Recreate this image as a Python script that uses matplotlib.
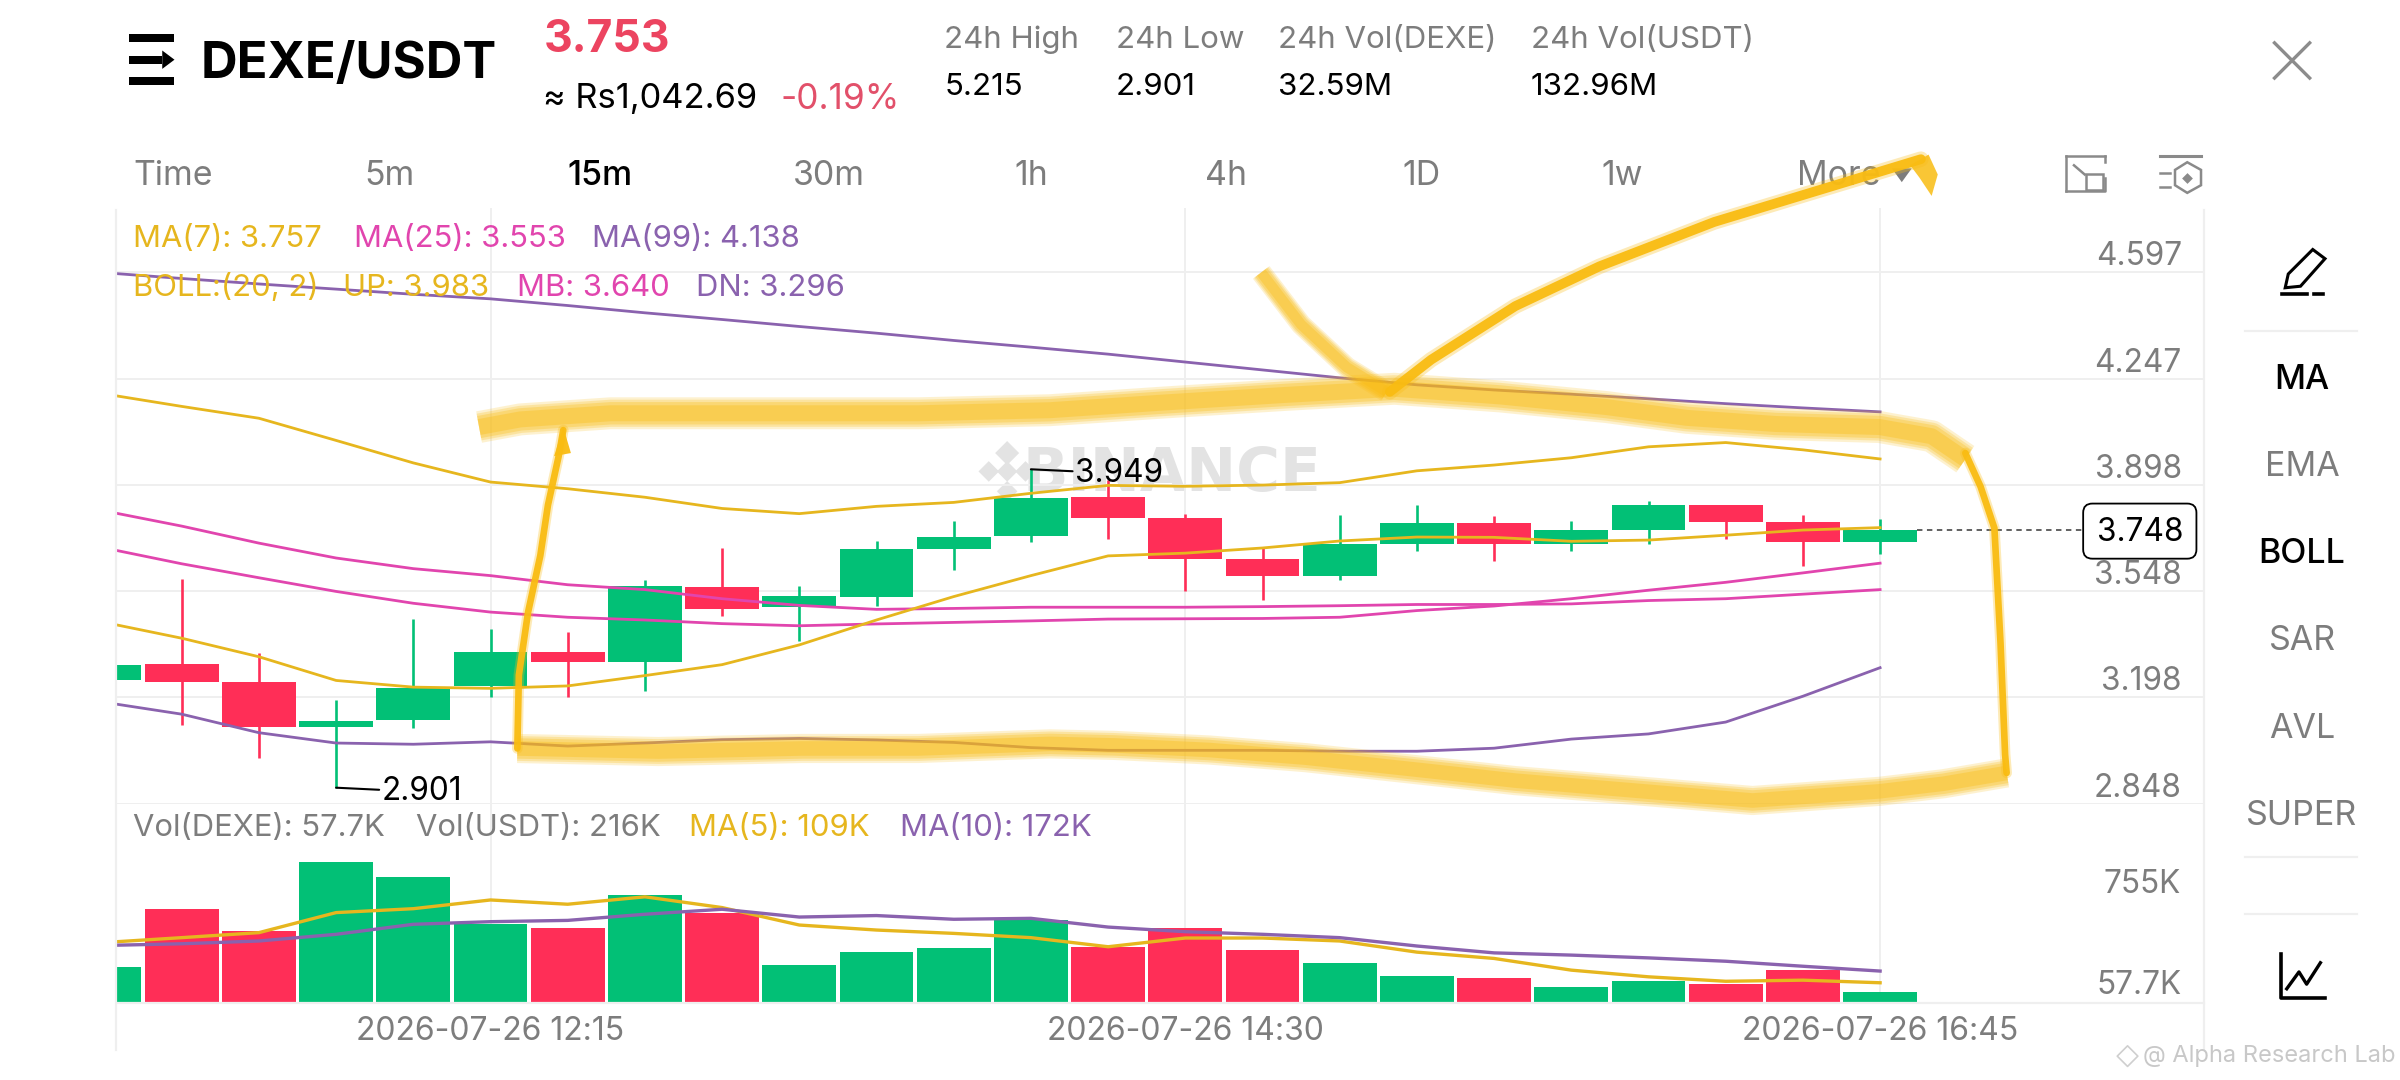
import matplotlib
matplotlib.use("Agg")
import matplotlib.pyplot as plt
from matplotlib.patches import Rectangle, FancyBboxPatch, Polygon

# ---------- data ----------
opens  = [3.257,3.307,3.248,3.100,3.124,3.236,3.348,3.315,3.561,3.495,3.530,3.686,3.729,3.858,3.789,3.655,3.598,3.702,3.773,3.702,3.749,3.831,3.776,3.711]
closes = [3.305,3.248,3.100,3.120,3.228,3.348,3.314,3.566,3.490,3.531,3.686,3.726,3.853,3.789,3.655,3.599,3.702,3.773,3.702,3.749,3.833,3.777,3.711,3.748]
highs  = [3.305,3.589,3.344,3.189,3.456,3.422,3.414,3.586,3.689,3.564,3.713,3.778,3.949,3.914,3.801,3.690,3.798,3.832,3.794,3.780,3.846,3.833,3.798,3.784]
lows   = [3.257,3.108,3.000,2.901,3.098,3.198,3.198,3.218,3.465,3.383,3.499,3.618,3.710,3.720,3.549,3.520,3.586,3.680,3.648,3.680,3.703,3.720,3.630,3.670]
ma7    = [3.445,3.393,3.332,3.254,3.232,3.228,3.236,3.270,3.306,3.371,3.453,3.530,3.599,3.664,3.673,3.690,3.713,3.726,3.725,3.712,3.716,3.732,3.749,3.757]
ma25   = [3.812,3.762,3.706,3.657,3.622,3.599,3.569,3.553,3.523,3.501,3.488,3.491,3.495,3.495,3.495,3.497,3.500,3.504,3.504,3.506,3.517,3.523,3.538,3.553]
ma99   = [4.596,4.577,4.559,4.542,4.525,4.510,4.488,4.464,4.442,4.419,4.397,4.373,4.351,4.328,4.302,4.276,4.250,4.227,4.210,4.196,4.181,4.165,4.151,4.138]
boll_up= [4.197,4.156,4.117,4.044,3.970,3.907,3.885,3.857,3.820,3.803,3.827,3.840,3.870,3.896,3.893,3.897,3.905,3.944,3.963,3.987,4.023,4.037,4.013,3.983]
boll_mb= [3.690,3.638,3.592,3.547,3.508,3.479,3.462,3.453,3.441,3.434,3.440,3.445,3.450,3.456,3.457,3.458,3.462,3.484,3.499,3.523,3.551,3.577,3.608,3.640]
boll_dn= [3.182,3.143,3.082,3.048,3.044,3.052,3.038,3.048,3.059,3.063,3.058,3.050,3.033,3.024,3.024,3.024,3.021,3.021,3.031,3.061,3.078,3.117,3.202,3.296]
volume = [193,507,388,761,680,424,402,582,487,204,274,296,445,303,404,287,215,148,133,85,121,101,180,57.7]
vol_ma5= [326,352,379,487,508,555,532,572,514,420,393,375,352,303,350,350,334,274,240,177,141,117,123,109]
vol_ma10=[310,319,334,370,424,438,445,478,505,463,471,451,456,409,384,370,352,307,270,258,243,225,198,172]
price_ticks = [4.597,4.247,3.898,3.548,3.198,2.848]
price_tick_labels = ["4.597","4.247","3.898","3.548","3.198","2.848"]
date_idx = [5,14,23]
date_labels = ["2026-07-26 12:15","2026-07-26 14:30","2026-07-26 16:45"]

# ---------- style ----------
GREEN="#02C076"; RED="#FF2E57"; YEL="#E6B61E"; MAG="#E145AE"; PUR="#8A62AE"
GRAY="#7D7D7D"; GRID="#EFEFEF"; HL="#F9BC12"
plt.rcParams['font.family']=['Inter','DejaVu Sans']
W,H=2400,1080
fig=plt.figure(figsize=(24,10.8),dpi=100,facecolor='white')
def axpx(l,t,r,b,z):
    a=fig.add_axes([l/W,1-b/H,(r-l)/W,(b-t)/H],zorder=z); a.patch.set_alpha(0); return a

# overlay coordinates follow a 1568-wide view of the screen
S=W/1568
bg=axpx(0,0,W,H,0); bg.set_xlim(0,1568); bg.set_ylim(H/S,0); bg.axis('off')
top=axpx(0,0,W,H,5); top.set_xlim(0,1568); top.set_ylim(H/S,0); top.axis('off')

L,R=117,2204
xlim=((L-104.5)/77.2,(R-104.5)/77.2)
ax=axpx(L,208,R,803.8,2); vx=axpx(L,803.8,R,1003,2)
xs=list(range(len(opens)))

# ---------- price panel ----------
ax.set_xlim(*xlim); ax.set_ylim(2.848,4.809)
ax.set_yticks(price_ticks); ax.set_xticks(date_idx)
ax.tick_params(length=0,labelleft=False,labelbottom=False)
ax.grid(True,color=GRID,lw=1.4); ax.set_axisbelow(True)
for s in ax.spines.values(): s.set_visible(False)
BW=0.955
for i in xs:
    c=GREEN if closes[i]>=opens[i] else RED
    ax.plot([i,i],[lows[i],highs[i]],color=c,lw=1.9,solid_capstyle='butt',zorder=2)
    ax.bar(i,abs(closes[i]-opens[i]),bottom=min(opens[i],closes[i]),width=BW,color=c,lw=0,zorder=3)
for s,c in [(ma99,PUR),(boll_up,YEL),(ma25,MAG),(boll_mb,MAG),(ma7,YEL),(boll_dn,PUR)]:
    ax.plot(xs,s,color=c,lw=2.0,zorder=4,solid_joinstyle='round')
for t,lab in zip(price_ticks,price_tick_labels):
    ax.annotate(lab,xy=(1,t),xycoords=('axes fraction','data'),xytext=(-16,0),textcoords='offset points',
                ha='right',va='bottom',fontsize=22.7,color=GRAY)
ann=dict(arrowstyle='-',color='black',lw=1.5,shrinkA=0,shrinkB=0)
ax.annotate("3.949",xy=(12,3.949),xytext=(32,-3),textcoords='offset points',va='center',ha='left',fontsize=22.7,color='black',arrowprops=ann,zorder=6)
ax.annotate("2.901",xy=(3,2.901),xytext=(33,-3),textcoords='offset points',va='center',ha='left',fontsize=22.7,color='black',arrowprops=ann,zorder=6)
ax.plot([23.48,25.7],[closes[-1]]*2,color='#555555',lw=1.3,ls=(0,(3,2.5)),zorder=2)

# ---------- volume panel ----------
vx.set_xlim(*xlim); vx.set_ylim(0,1073)
vx.set_xticks(date_idx); vx.set_xticklabels(date_labels,fontsize=23,color=GRAY)
vx.set_yticks([]); vx.tick_params(length=0,pad=9)
vx.grid(True,axis='x',color=GRID,lw=1.4); vx.set_axisbelow(True)
for s in ['top','left','right']: vx.spines[s].set_visible(False)
vx.spines['bottom'].set_color(GRID); vx.spines['bottom'].set_linewidth(1.6)
vx.bar(xs,volume,width=BW,color=[GREEN if closes[i]>=opens[i] else RED for i in xs],lw=0,zorder=2)
vx.plot(xs,vol_ma5,color=YEL,lw=2.4,zorder=3)
vx.plot(xs,vol_ma10,color=PUR,lw=2.4,zorder=3)

# ---------- background watermark ----------
bg.text(668,310,"BINANCE",fontsize=43,fontweight='bold',family='DejaVu Sans',color='#E3E3E3',va='center',ha='left')
bg.scatter([658,646,670,658,658],[296,308,308,308,321],marker='D',s=[150,110,110,110,110],color='#E3E3E3',lw=0)

# ---------- overlay text ----------
def T(x,y,s,c='black',fs=22.7,w='normal',ha='left',a=top,z=None):
    a.text(x,y+4,s,color=c,fontsize=fs,fontweight=w,ha=ha,va='center',zorder=z)
T(131,38,"DEXE/USDT",fs=36.5,w='bold')
T(355,22,"3.753",c='#EC4460',fs=32,w='bold')
T(355,61,"≈ Rs1,042.69",fs=24.8)
T(510,61,"-0.19%",c='#E2506A',fs=25.3)
for x,a,b in [(617,"24h High","5.215"),(729,"24h Low","2.901"),(835,"24h Vol(DEXE)","32.59M"),(1000,"24h Vol(USDT)","132.96M")]:
    T(x,22,a,c=GRAY,fs=22.5); T(x,53,b,fs=22.5)
for x,s,c,w in [(87,"Time",GRAY,'normal'),(238,"5m",GRAY,'normal'),(371,"15m",'black','medium'),(518,"30m",GRAY,'normal'),
              (663,"1h",GRAY,'normal'),(787,"4h",GRAY,'normal'),(916,"1D",GRAY,'normal'),(1046,"1w",GRAY,'normal'),(1174,"More",GRAY,'normal')]:
    T(x,111,s,c=c,fs=24.4,w=w)
top.add_patch(Polygon([[1236,110],[1249,110],[1242.5,119]],closed=True,color=GRAY,lw=0))
for x,y,s,c in [(87,152,"MA(7): 3.757",YEL),(231,152,"MA(25): 3.553",MAG),(387,152,"MA(99): 4.138",PUR),
                (87,184,"BOLL:(20, 2)",YEL),(224,184,"UP: 3.983",YEL),(338,184,"MB: 3.640",MAG),(455,184,"DN: 3.296",PUR),
                (87,537,"Vol(DEXE): 57.7K",GRAY),(272,537,"Vol(USDT): 216K",GRAY),(450,537,"MA(5): 109K",YEL),(588,537,"MA(10): 172K",PUR)]:
    T(x,y,s,c=c,fs=22.3)
T(1425,574,"755K",c=GRAY,ha='right'); T(1425,640,"57.7K",c=GRAY,ha='right')
for y,s,c,w in [(244,"MA",'black','medium'),(301,"EMA",GRAY,'normal'),(358,"BOLL",'black','medium'),(415,"SAR",GRAY,'normal'),(472,"AVL",GRAY,'normal'),(529,"SUPER",GRAY,'normal')]:
    T(1504,y,s,c=c,fs=24.5,w=w,ha='center')
for y in [216,560,597]:
    top.plot([1467,1540],[y,y],color=GRID,lw=1.6)
top.add_patch(FancyBboxPatch((1361,329),74,36,boxstyle="round,pad=0,rounding_size=6",fc='white',ec='black',lw=1.3,zorder=7))
T(1398,344,"3.748",ha='center',fs=22.7,z=8)
# panel frame verticals
top.plot([75.5,75.5],[137,686],color=GRID,lw=1.6); top.plot([1440,1440],[137,686],color=GRID,lw=1.6)
# logo
for y,x2 in [(25,114),(39,106),(53,114)]:
    top.add_patch(Rectangle((84,y-2.5),x2-84,5,color='black',lw=0))
top.add_patch(Polygon([[106,33],[114,39],[106,45]],closed=True,color='black',lw=0))
# close
top.plot([1486,1509],[28,51],color='#8C8C8C',lw=2.4); top.plot([1509,1486],[28,51],color='#8C8C8C',lw=2.4)
# toolbar icons
I=dict(color='#8A8A8A',lw=1.8)
top.plot([1350,1375],[102,102],**I); top.plot([1350,1350],[102,125],**I); top.plot([1350,1375,1375],[125,125,116],**I)
top.plot([1375,1375],[102,106],**I); top.add_patch(Rectangle((1363,114),11,10,fill=False,ec='#8A8A8A',lw=1.8))
top.plot([1355,1362],[108,114],**I)
top.plot([1411,1438],[102,102],color='#8A8A8A',lw=2.2)
top.plot([1411,1418],[113,113],**I); top.plot([1411,1418],[122,122],**I)
top.add_patch(Polygon([[1429,106],[1438,111],[1438,121],[1429,126],[1421,121],[1421,111]],closed=True,fill=False,ec='#8A8A8A',lw=1.8))
top.scatter([1429],[116],marker='D',s=30,color='#8A8A8A',lw=0)
# pencil
top.add_patch(Polygon([[1511,163],[1519,169],[1503,187],[1493,188],[1495,179]],closed=True,fill=False,ec='black',lw=2.2))
top.plot([1491,1507],[192,192],color='black',lw=2.6); top.plot([1512,1518],[192,192],color='black',lw=2.6)
# chart icon
top.plot([1490,1490,1519],[623,652,652],color='black',lw=2.6)
top.plot([1494,1502,1507,1516],[646,635,643,629],color='black',lw=2.4)
# lower right watermark
T(1400,686,"@ Alpha Research Lab",c='#C8C8C8',fs=17)
top.scatter([1390],[690],marker='D',s=110,facecolor='none',edgecolor='#CFCFCF',lw=1.2)

# ---------- hand drawn highlighter ----------
def soft(xy,w):
    X,Y=zip(*xy)
    for f,al in [(1.0,.2),(.85,.25),(.7,.3),(.5,.35)]:
        top.plot(X,Y,color=HL,lw=w*f,alpha=al,solid_capstyle='butt',solid_joinstyle='round',zorder=4)
def solid(xy,w):
    X,Y=zip(*xy)
    top.plot(X,Y,color=HL,lw=w*1.6,alpha=.3,solid_capstyle='round',zorder=4)
    top.plot(X,Y,color=HL,lw=w,alpha=.95,solid_capstyle='round',solid_joinstyle='round',zorder=4)
soft([(313,279),(340,274),(399,270),(500,270),(600,270),(686,268),(760,263),(840,258),(911,254),(980,259),(1050,266),(1102,273),(1160,277),(1228,279),(1262,285),(1284,300)],23)
solid([(1284,296),(1294,318),(1303,345),(1307,420),(1310,493),(1311,505)],4.8)
soft([(1311,505),(1270,512),(1228,517),(1145,523),(1062,516),(990,510),(936,504),(853,495),(790,490),(728,487),(686,486),(600,489),(524,489),(430,491),(338,489)],21)
solid([(338,489),(339,441),(345,400),(353,363),(358,330),(365,298),(368,281)],4.8)
top.add_patch(Polygon([[362,298],[368,279],[373,296]],closed=True,color=HL,lw=0,alpha=.95,zorder=4))
soft([(824,178),(850,212),(880,240),(906,256)],15)
solid([(908,256),(935,235),(990,200),(1045,174),(1120,145),(1209,118),(1255,104)],7)
top.add_patch(Polygon([[1248,108],[1260,101],[1266,114],[1262,128],[1254,116]],closed=True,color=HL,lw=0,alpha=.85,zorder=4))

fig.savefig("out.png",dpi=100)
